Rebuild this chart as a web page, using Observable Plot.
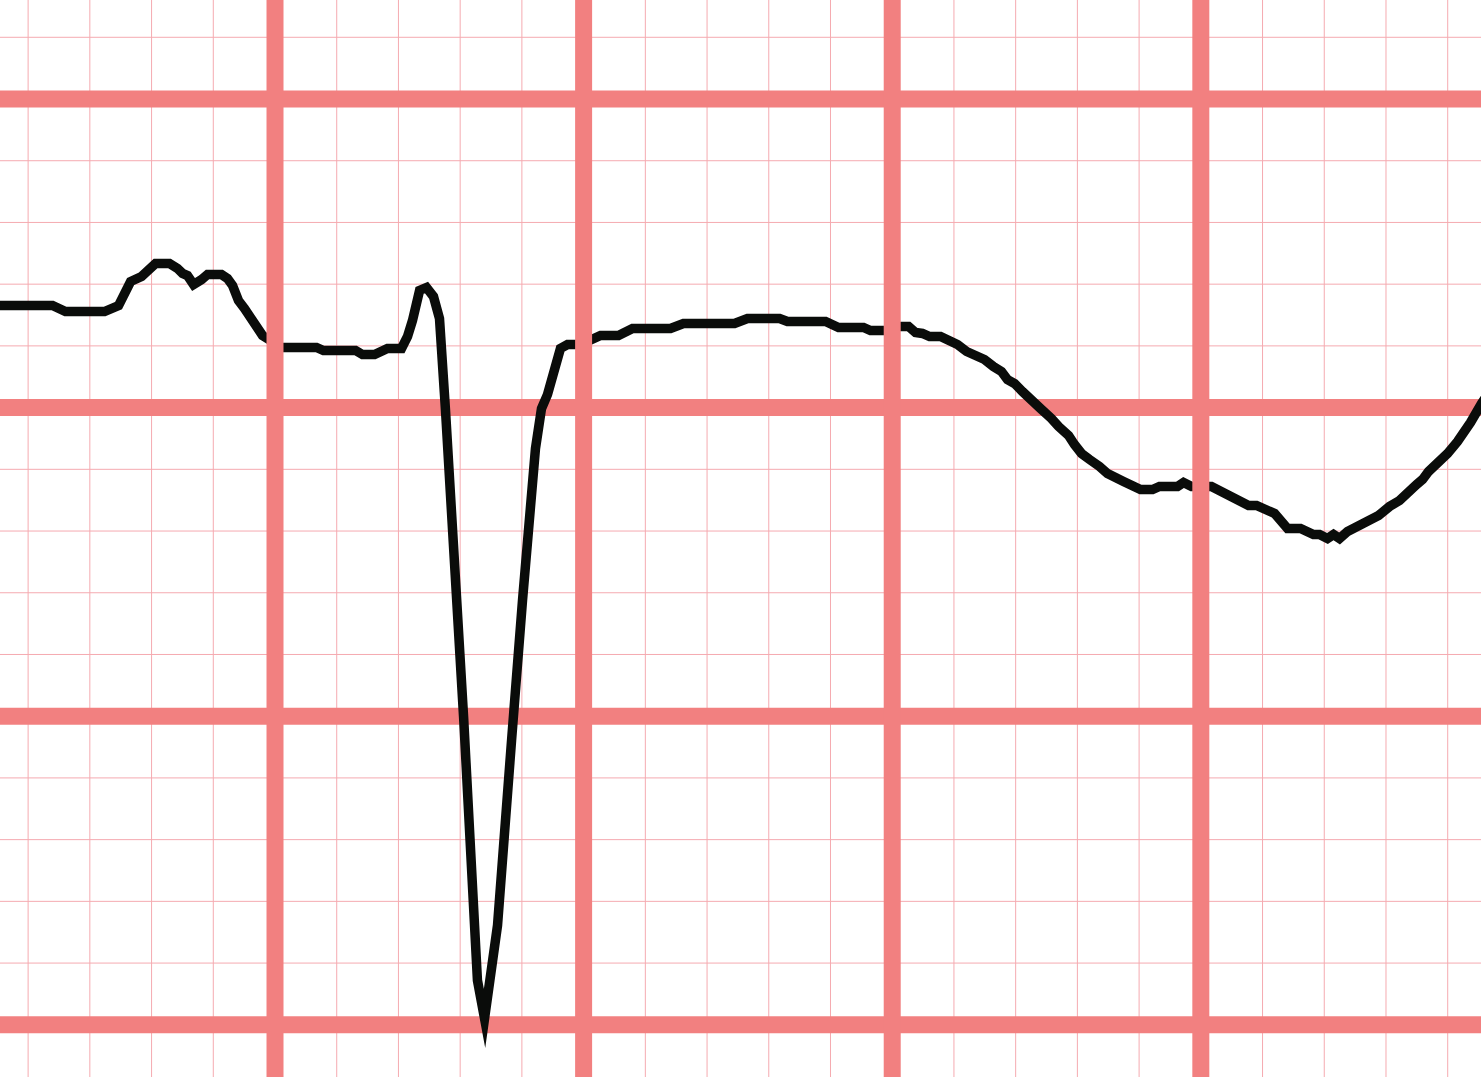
<!DOCTYPE html>
<html>
<head>
<meta charset="utf-8">
<script src="https://cdn.jsdelivr.net/npm/d3@7"></script>
<script src="https://cdn.jsdelivr.net/npm/@observablehq/plot@0.6"></script>
<style>
  html, body { margin: 0; padding: 0; background: #ffffff; overflow: hidden; }
  #chart svg { display: block; }
</style>
</head>
<body>
<div id="chart"></div>
<script>
// ECG strip: time in seconds, amplitude in mV (25 mm/s, 10 mm/mV paper)
const timeS = [
  0.0156, 0.0221, 0.0558, 0.0642, 0.0895, 0.0986, 0.1064, 0.1135, 0.1226, 0.1316,
  0.1368, 0.1401, 0.1433, 0.1472, 0.1524, 0.1563, 0.1653, 0.1692, 0.1725, 0.1763,
  0.1802, 0.1919, 0.1971, 0.2023, 0.2269, 0.2314, 0.2522, 0.2567, 0.2645, 0.2729,
  0.2820, 0.2859, 0.2891, 0.2937, 0.2982, 0.3027, 0.3066, 0.3105, 0.3222, 0.3312,
  0.3358, 0.3442, 0.3533, 0.3604, 0.3688, 0.3727, 0.3766, 0.3850, 0.3896, 0.3980,
  0.4110, 0.4226, 0.4317, 0.4563, 0.4647, 0.4978, 0.5062, 0.5270, 0.5321, 0.5568,
  0.5652, 0.5814, 0.5859, 0.5970, 0.6028, 0.6106, 0.6151, 0.6196, 0.6242, 0.6313,
  0.6423, 0.6482, 0.6598, 0.6656, 0.6708, 0.6747, 0.6793, 0.6844, 0.6961, 0.7032,
  0.7078, 0.7143, 0.7181, 0.7227, 0.7279, 0.7343, 0.7395, 0.7499, 0.7609, 0.7687,
  0.7732, 0.7849, 0.7888, 0.7940, 0.8069, 0.8309, 0.8361, 0.8478, 0.8562, 0.8646,
  0.8730, 0.8769, 0.8821, 0.8860, 0.8899, 0.8951, 0.9152, 0.9223, 0.9288, 0.9398,
  0.9437, 0.9476, 0.9599, 0.9664, 0.9748, 0.9819, 0.9877
];
const amplitudeMv = [
  0.1654, 0.1654, 0.1654, 0.1557, 0.1557, 0.1654, 0.2043, 0.2124, 0.2335, 0.2335,
  0.2254, 0.2173, 0.2140, 0.1995, 0.2075, 0.2157, 0.2157, 0.2092, 0.1978, 0.1735,
  0.1606, 0.1168, 0.1087, 0.0974, 0.0974, 0.0925, 0.0925, 0.0860, 0.0860, 0.0958,
  0.0958, 0.1152, 0.1411, 0.1897, 0.1946, 0.1800, 0.1444, -0.0047, -0.5005, -0.9282,
  -0.9898, -0.8391, -0.5394, -0.3125, -0.0663, -0.0015, 0.0212, 0.0958, 0.1022, 0.1022,
  0.1168, 0.1168, 0.1282, 0.1282, 0.1363, 0.1363, 0.1444, 0.1444, 0.1395, 0.1395,
  0.1298, 0.1298, 0.1249, 0.1249, 0.1314, 0.1314, 0.1217, 0.1201, 0.1152, 0.1152,
  0.1022, 0.0909, 0.0779, 0.0666, 0.0585, 0.0455, 0.0390, 0.0261, -0.0015, -0.0177,
  -0.0306, -0.0452, -0.0598, -0.0744, -0.0841, -0.0954, -0.1068, -0.1197, -0.1327, -0.1327,
  -0.1278, -0.1278, -0.1214, -0.1278, -0.1278, -0.1586, -0.1586, -0.1716, -0.1959, -0.1959,
  -0.2056, -0.2056, -0.2121, -0.2056, -0.2121, -0.2007, -0.1748, -0.1602, -0.1505, -0.1246,
  -0.1165, -0.1035, -0.0744, -0.0549, -0.0241, 0.0066, 0.0277
];

// paper grid (seconds / mV)
const minorTimes = [0.04, 0.08, 0.12, 0.16, 0.24, 0.28, 0.32, 0.36, 0.44, 0.48, 0.52, 0.56,
                    0.64, 0.68, 0.72, 0.76, 0.84, 0.88, 0.92, 0.96];
const majorTimes = [0.2, 0.4, 0.6, 0.8];
const minorVolts = [0.6, 0.4, 0.3, 0.2, 0.1, -0.1, -0.2, -0.3, -0.4, -0.6, -0.7, -0.8, -0.9];
const majorVolts = [0.5, 0, -0.5, -1.0];

const timeDomain = [0.0221, 0.9819];
const voltDomain = [-1.0854, 0.6596];

const ecg = timeS.map((t, i) => ({t, v: amplitudeMv[i]}));

const minorColor = "#f5aab0";
const majorColor = "#f28080";

const chart = Plot.plot({
  width: 1481,
  height: 1077,
  margin: 0,
  style: {background: "#ffffff"},
  x: {domain: timeDomain, axis: null},
  y: {domain: voltDomain, axis: null},
  marks: [
    Plot.ruleX(minorTimes, {stroke: minorColor, strokeWidth: 1}),
    Plot.ruleY(minorVolts, {stroke: minorColor, strokeWidth: 1}),
    Plot.ruleY(majorVolts, {stroke: majorColor, strokeWidth: 17}),
    Plot.line(ecg, {
      x: "t", y: "v",
      stroke: "#0a0c0a", strokeWidth: 9.5,
      strokeLinejoin: "miter", strokeMiterlimit: 10, strokeLinecap: "butt",
      clip: true
    }),
    Plot.ruleX(majorTimes, {stroke: majorColor, strokeWidth: 17})
  ]
});
document.getElementById("chart").appendChild(chart);
</script>
</body>
</html>
